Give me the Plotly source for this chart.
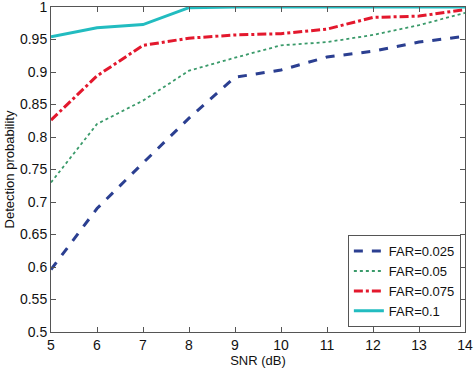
import plotly.graph_objects as go

snr = [5, 6, 7, 8, 9, 10, 11, 12, 13, 14]
far_0025 = [0.596, 0.690, 0.760, 0.829, 0.892, 0.903, 0.923, 0.932, 0.946, 0.955]
far_005 = [0.730, 0.820, 0.856, 0.902, 0.922, 0.941, 0.946, 0.957, 0.972, 0.991]
far_0075 = [0.826, 0.894, 0.941, 0.952, 0.957, 0.959, 0.966, 0.984, 0.986, 0.996]
far_01 = [0.954, 0.968, 0.973, 0.999, 1.0, 1.0, 1.0, 1.0, 1.0, 1.0]
names = ["FAR=0.025", "FAR=0.05", "FAR=0.075", "FAR=0.1"]
x_ticks = [5, 6, 7, 8, 9, 10, 11, 12, 13, 14]
y_ticks = [0.5, 0.55, 0.6, 0.65, 0.7, 0.75, 0.8, 0.85, 0.9, 0.95, 1]
y_tick_text = ["0.5", "0.55", "0.6", "0.65", "0.7", "0.75", "0.8", "0.85", "0.9", "0.95", "1"]

series = [far_0025, far_005, far_0075, far_01]
colors = ["#2b3f91", "#3a9a6a", "#e3182d", "#22bcc0"]
dashes = ["dash", "dot", "dashdot", "solid"]
widths = [3, 1.8, 3, 3]

fig = go.Figure()
for vals, name, c, d, w in zip(series, names, colors, dashes, widths):
    fig.add_trace(go.Scatter(x=snr, y=vals, name=name, mode="lines",
                             line=dict(color=c, dash=d, width=w), cliponaxis=False))

axis_common = dict(showgrid=False, zeroline=False, showline=True, linecolor="#555555",
                   linewidth=1, mirror="ticks", ticks="inside", ticklen=5,
                   tickcolor="#555555", tickfont=dict(size=14, color="#111111"),
                   ticklabeloverflow="allow", automargin=False)

fig.update_layout(
    width=474, height=370,
    margin=dict(l=51, r=9, t=7, b=38),
    paper_bgcolor="white", plot_bgcolor="white",
    font=dict(family="Liberation Sans, Arial, sans-serif", color="#111111"),
    xaxis=dict(range=[5, 14], tickvals=x_ticks,
               title=dict(text="SNR (dB)", font=dict(size=13), standoff=0), **axis_common),
    yaxis=dict(range=[0.5, 1], tickvals=y_ticks, ticktext=y_tick_text,
               title=dict(text="Detection probability", font=dict(size=13), standoff=2),
               **axis_common),
    legend=dict(x=0.99, y=0.015, xanchor="right", yanchor="bottom",
                bordercolor="#555555", borderwidth=1, bgcolor="white",
                font=dict(size=13), tracegroupgap=0, itemwidth=30),
    showlegend=True,
)

fig.write_html("out.html", config={"displayModeBar": False},
               post_script="document.body.style.margin='0';document.body.style.overflow='hidden';")
